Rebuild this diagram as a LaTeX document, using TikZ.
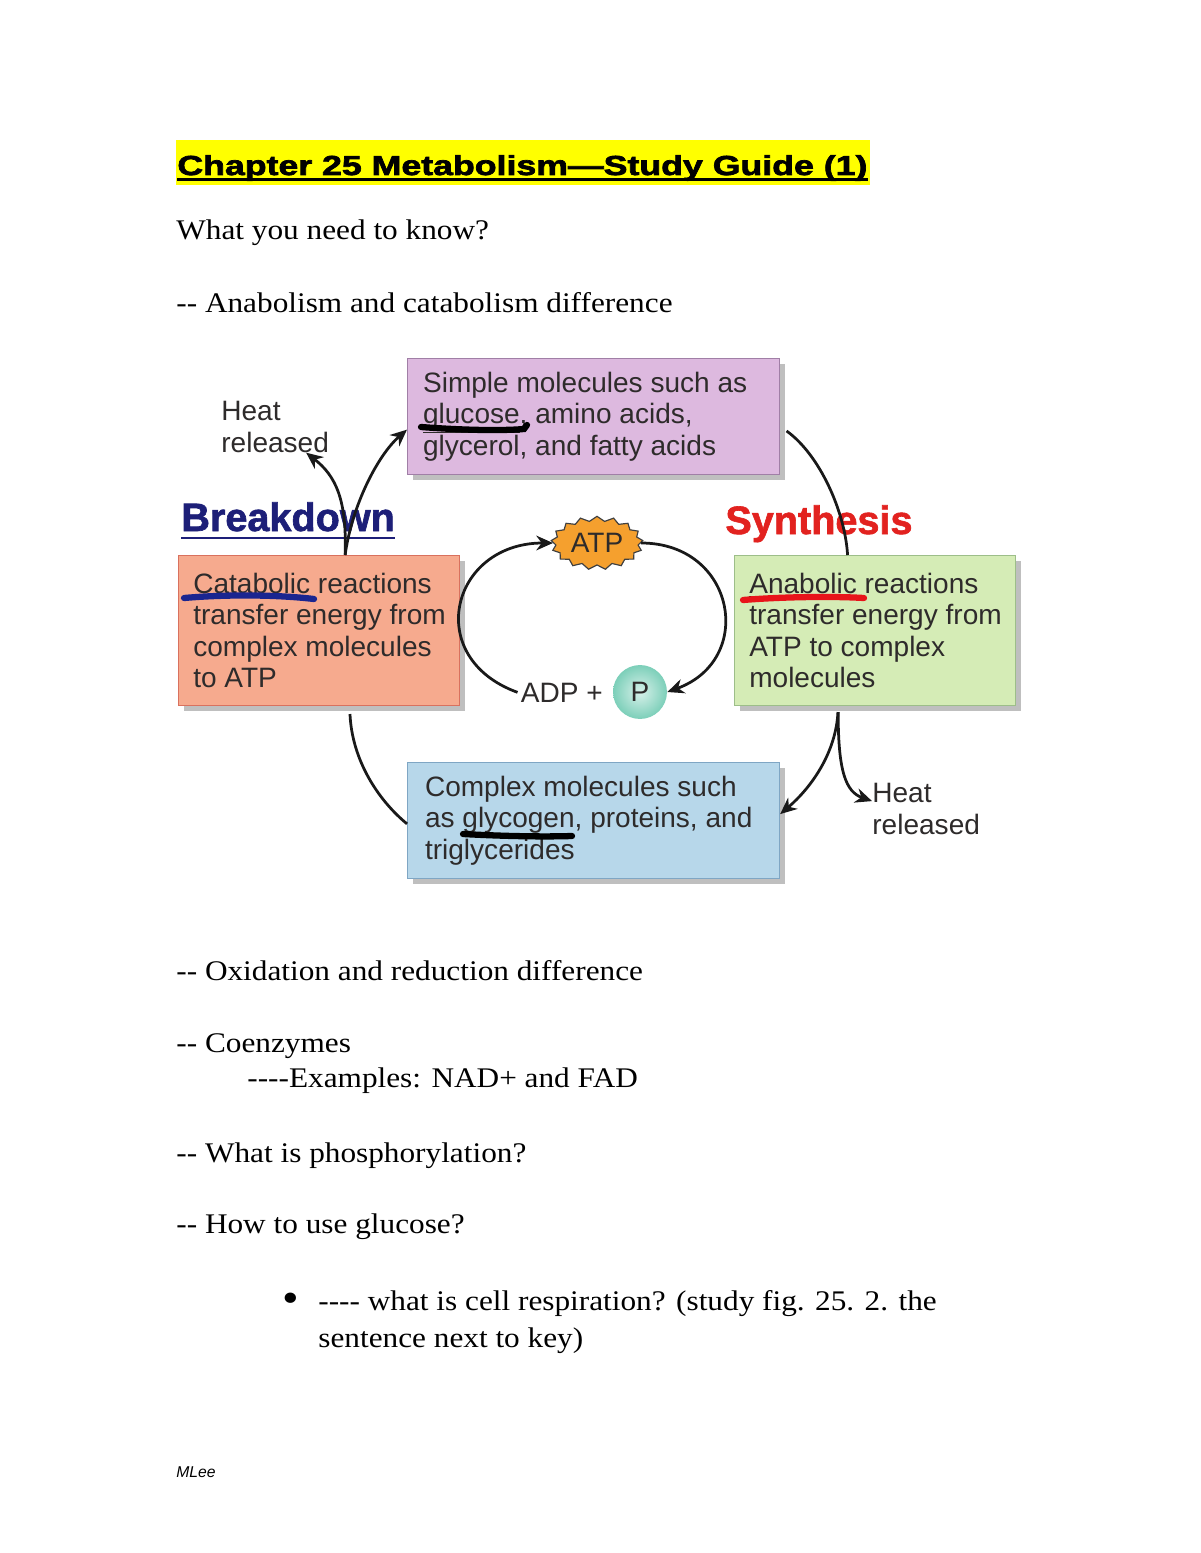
\documentclass[tikz,border=0pt]{standalone}
\usepackage{fontspec}
\usetikzlibrary{arrows.meta,shadows,shapes.symbols}
\setmainfont{Liberation Serif}
\newfontfamily\mlBody[FakeStretch=1.1]{Liberation Serif}
\newfontfamily\mlHead[FakeStretch=1.3,FakeBold=2.6]{Liberation Sans Bold}
\newfontfamily\mlSans{Liberation Sans}
\newfontfamily\mlTag[FakeBold=1.6]{Liberation Sans Bold}
\newcommand{\mlBodyFont}{\mlBody\fontsize{14.5}{17}\selectfont}
\newcommand{\mlFigFont}{\mlSans\fontsize{14.3}{16.1}\selectfont}
\newcommand{\mlTagFont}{\mlTag\fontsize{20.2}{22}\selectfont}
\newcommand{\mlHeadFont}{\mlHead\fontsize{14}{16}\selectfont}
\def\px{0.51pt}

\definecolor{hiyellow}{HTML}{FFFF00}
\definecolor{simplefill}{HTML}{DDB9DF}
\definecolor{simpleedge}{HTML}{A07FA6}
\definecolor{catafill}{HTML}{F6AA8E}
\definecolor{cataedge}{HTML}{D9715E}
\definecolor{anafill}{HTML}{D5ECB6}
\definecolor{anaedge}{HTML}{9DBE89}
\definecolor{complexfill}{HTML}{B7D7EA}
\definecolor{complexedge}{HTML}{7FA6C4}
\definecolor{figink}{HTML}{2E2B2B}
\definecolor{navyink}{HTML}{1D1F78}
\definecolor{redink}{HTML}{E2221F}
\definecolor{catmark}{HTML}{1A2590}
\definecolor{anamark}{HTML}{E8141A}
\definecolor{atporange}{HTML}{F5A02E}
\definecolor{pteal}{HTML}{7CCFB9}

\tikzset{
  bodyline/.style={anchor=base west, inner sep=0pt, font=\mlBodyFont},
  molbox/.style={anchor=north west, inner sep=0pt, line width=0.6pt,
    drop shadow={shadow xshift=3pt, shadow yshift=-3pt, opacity=0.45, fill=black!55}},
  moltext/.style={anchor=west, inner sep=0pt, align=left, font=\mlFigFont, text=figink},
  heatlbl/.style={anchor=base west, inner sep=0pt, align=left, font=\mlFigFont, text=figink},
  cycline/.style={line width=1.4pt, black!90},
  cyc/.style={cycline, -{Stealth[length=8.5pt,width=7.5pt]}},
  marker/.style={line width=3.2pt, line cap=round}
}

\begin{document}
\begin{tikzpicture}[x=\px,y=-\px]
\fill[white] (0,0) rectangle (1200,1553);
\useasboundingbox (0,0) rectangle (1200,1553);

% heading
\fill[hiyellow] (176,140) rectangle (870,185);
\node[anchor=base west, inner sep=0pt, font=\mlHeadFont] (title) at (177,175) {Chapter 25 Metabolism—Study Guide (1)};
\draw[line width=1.5pt] ([yshift=-2.2pt]title.base west) -- ([yshift=-2.2pt]title.base east);

\node[bodyline] (know) at (176,240) {What you need to know?};
\node[bodyline] (anacat) at (176,312) {-{}- Anabolism and catabolism difference};

% the four boxes
\node[molbox, fill=simplefill, draw=simpleedge, minimum width=372*\px, minimum height=116*\px] (simple) at (407,358) {};
\node[molbox, fill=catafill, draw=cataedge, minimum width=281*\px, minimum height=150*\px] (catab) at (178,555) {};
\node[molbox, fill=anafill, draw=anaedge, minimum width=281*\px, minimum height=150*\px] (ana) at (734,555) {};
\node[molbox, fill=complexfill, draw=complexedge, minimum width=372*\px, minimum height=116*\px] (complex) at (407,762) {};

\node[moltext] (simple text) at ([xshift=8pt]simple.west) {Simple molecules such as\\\underline{glucose}, amino acids,\\glycerol, and fatty acids};
\node[moltext] (catab text) at ([xshift=7.6pt]catab.west) {\underline{Catabolic} reactions\\transfer energy from\\complex molecules\\to ATP};
\node[moltext] (ana text) at ([xshift=7.6pt]ana.west) {\underline{Anabolic} reactions\\transfer energy from\\ATP to complex\\molecules};
\node[moltext] (complex text) at ([xshift=9pt]complex.west) {Complex molecules such\\as \underline{glycogen}, proteins, and\\triglycerides};

% side labels
\node[anchor=base west, inner sep=0pt, font=\mlTagFont, text=navyink] (breakdown) at (181,531) {Breakdown};
\draw[navyink, line width=0.8pt] ([yshift=-3.5pt]breakdown.base west) -- ([yshift=-3.5pt]breakdown.base east);
\node[anchor=base west, inner sep=0pt, font=\mlTagFont, text=redink] (synthesis) at (725,534) {Synthesis};
\node[heatlbl] (heatL) at (221,452) {Heat\\released};
\node[heatlbl] (heatR) at (872,834) {Heat\\released};

% energy carriers
\node[starburst, starburst points=17, starburst point height=2.4pt, random starburst=0,
  inner xsep=1.5pt, inner ysep=3pt,
  fill=atporange, draw=black!75, line width=0.6pt, font=\mlFigFont, text=figink] (atp) at (597,543) {ATP};
\node[anchor=base east, inner sep=1.5pt, font=\mlFigFont, text=figink] (adp) at (606,702) {ADP +};
\node[circle, minimum size=27.5pt, inner sep=0pt, inner color=pteal!30!white, outer color=pteal,
  font=\mlFigFont, text=figink] (p) at (640,692) {P};

% outer cycle
\draw[cyc] (catab.71) .. controls (352,505) and (378,455) .. (simple.184);
\draw[cyc] (catab.71) .. controls (347,500) and (336,476) .. (heatL.-40);
\draw[cycline, shorten <=4pt] (simple.-3) .. controls (820,455) and (845,512) .. (ana.110);
\draw[cyc, shorten <=3pt] (ana.-116) .. controls (836,752) and (812,787) .. (complex.2);
\draw[cyc, shorten <=3pt] (ana.-116) .. controls (838,772) and (846,792) .. (heatR.172);
\draw[cycline, shorten >=4pt] (complex.181) .. controls (378,800) and (352,760) .. (catab.-68);

% inner cycle
\draw[cyc] (adp.west) to[out=160, in=180, looseness=1.7] (atp.west);
\draw[cyc] (atp.east) to[out=0, in=20, looseness=1.6] (p.east);

% hand marks
\draw[marker, black] (421,427) .. controls (460,430) and (500,431) .. (524,429) -- (527,425);
\draw[marker, catmark] (184,598) .. controls (230,594) and (280,595) .. (314,599);
\draw[marker, anamark] (743,600) .. controls (780,597) and (830,596) .. (864,598);
\draw[marker, black] (463,834) .. controls (500,836) and (540,837) .. (572,836);

% rest of the list
\node[bodyline] (redox) at (176,980) {-{}- Oxidation and reduction difference};
\node[bodyline] (coenz) at (176,1052) {-{}- Coenzymes};
\node[bodyline] (nadfad) at (247,1087) {-{}-{}-{}-Examples: NAD+ and FAD};
\node[bodyline] (phos) at (176,1162) {-{}- What is phosphorylation?};
\node[bodyline] (gluc) at (176,1233) {-{}- How to use glucose?};
\node[bodyline, font=\mlBody\fontsize{22}{22}\selectfont] (dot) at (282,1312) {\textbullet};
\node[bodyline] (resp) at (318,1310) {-{}-{}-{}- what is cell respiration? (study fig. 25. 2. the};
\node[bodyline] (resp2) at (318,1347) {sentence next to key)};

\node[anchor=base west, inner sep=0pt, font=\mlSans\itshape\fontsize{8}{9}\selectfont] (sign) at (176,1477) {MLee};
\end{tikzpicture}
\end{document}
